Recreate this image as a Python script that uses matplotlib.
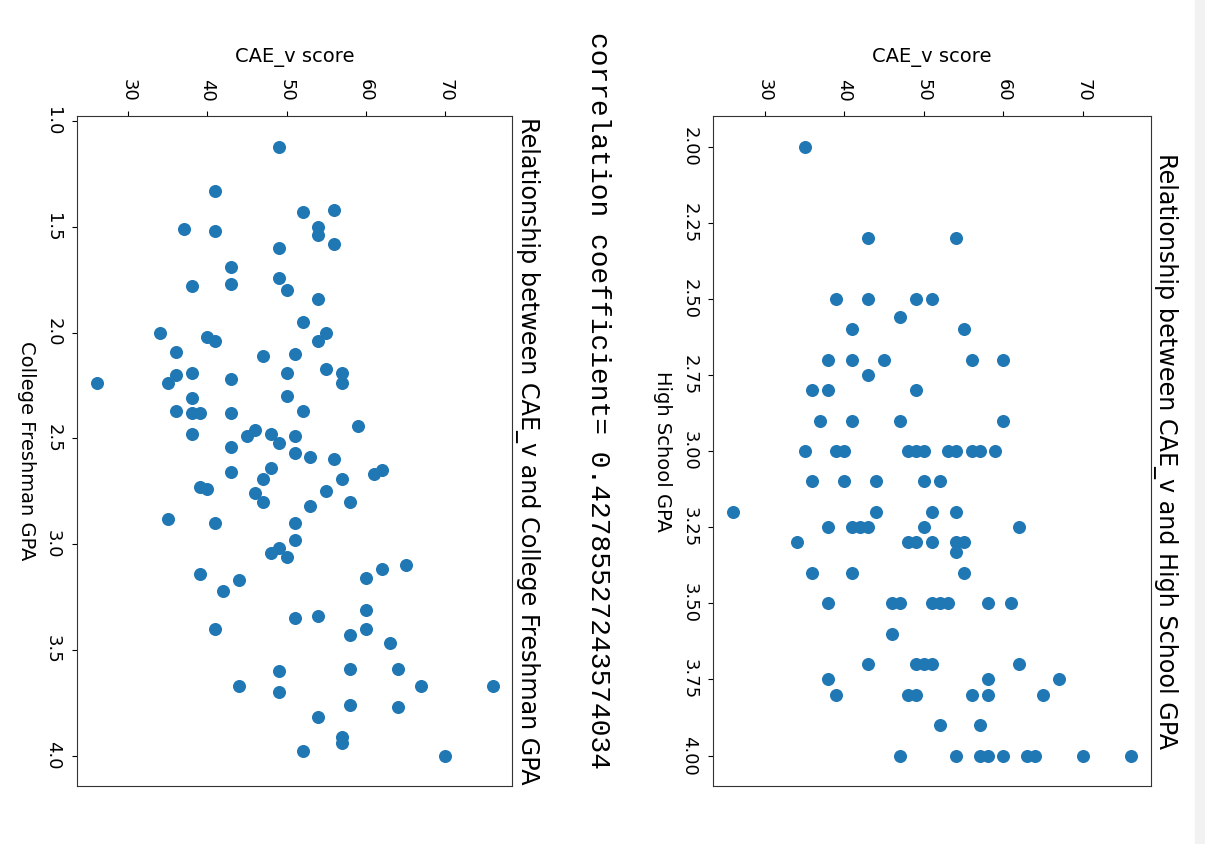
import matplotlib
matplotlib.use("Agg")
import matplotlib.pyplot as plt
from matplotlib.patches import Rectangle

# High School GPA vs CAE_v (right panel)
hs_gpa = [2.00, 2.30, 2.30,
          2.50, 2.50, 2.50, 2.50, 2.56, 2.60, 2.60,
          2.70, 2.70, 2.70, 2.70, 2.70, 2.75,
          2.80, 2.80, 2.80, 2.90, 2.90, 2.90, 2.90,
          3.00, 3.00, 3.00, 3.00, 3.00, 3.00, 3.00, 3.00, 3.00, 3.00, 3.00,
          3.10, 3.10, 3.10, 3.10, 3.10,
          3.20, 3.20, 3.20, 3.20,
          3.25, 3.25, 3.25, 3.25, 3.25, 3.25,
          3.30, 3.30, 3.30, 3.30, 3.30, 3.30, 3.33,
          3.40, 3.40, 3.40,
          3.50, 3.50, 3.50, 3.50, 3.50, 3.50, 3.50, 3.50, 3.60,
          3.70, 3.70, 3.70, 3.70, 3.70,
          3.75, 3.75, 3.75,
          3.80, 3.80, 3.80, 3.80, 3.80, 3.80,
          3.90, 3.90,
          4.00, 4.00, 4.00, 4.00, 4.00, 4.00, 4.00, 4.00, 4.00]
hs_cae = [35, 43, 54,
          39, 43, 49, 51, 47, 41, 55,
          38, 41, 45, 56, 60, 43,
          36, 38, 49, 37, 41, 47, 60,
          35, 39, 40, 48, 49, 50, 53, 54, 56, 57, 59,
          36, 40, 44, 50, 52,
          26, 44, 51, 54,
          38, 41, 42, 43, 50, 62,
          34, 48, 49, 51, 54, 55, 54,
          36, 41, 55,
          38, 46, 47, 51, 52, 53, 58, 61, 46,
          43, 49, 50, 51, 62,
          38, 58, 67,
          39, 48, 49, 56, 58, 65,
          52, 57,
          47, 54, 57, 58, 60, 63, 64, 70, 76]

# College Freshman GPA vs CAE_v (left panel)
col_gpa = [1.12, 1.33, 1.43, 1.42, 1.51, 1.52, 1.50, 1.54, 1.58, 1.60,
           1.69, 1.74, 1.77, 1.78, 1.80, 1.84, 1.95, 2.00, 2.00, 2.04,
           2.02, 2.04, 2.09, 2.10, 2.11, 2.24, 2.24, 2.20, 2.19, 2.22,
           2.19, 2.17, 2.19, 2.24, 2.30, 2.31, 2.37, 2.37, 2.38, 2.38,
           2.38, 2.44, 2.48, 2.49, 2.46, 2.48, 2.52, 2.49, 2.54, 2.57,
           2.59, 2.60, 2.64, 2.66, 2.67, 2.65, 2.69, 2.69, 2.73, 2.74,
           2.75, 2.76, 2.80, 2.80, 2.82, 2.88, 2.90, 2.90, 2.98, 3.04,
           3.02, 3.06, 3.14, 3.22, 3.17, 3.16, 3.12, 3.10, 3.40, 3.35,
           3.34, 3.31, 3.40, 3.43, 3.47, 3.60, 3.59, 3.59, 3.67, 3.70,
           3.67, 3.67, 3.76, 3.77, 3.82, 3.91, 3.94, 3.98, 4.00]
col_cae = [49, 41, 52, 56, 37, 41, 54, 54, 56, 49,
           43, 49, 43, 38, 50, 54, 52, 34, 55, 54,
           40, 41, 36, 51, 47, 26, 35, 36, 38, 43,
           50, 55, 57, 57, 50, 38, 52, 36, 38, 39,
           43, 59, 38, 45, 46, 48, 49, 51, 43, 51,
           53, 56, 48, 43, 61, 62, 47, 57, 39, 40,
           55, 46, 47, 58, 53, 35, 41, 51, 51, 48,
           49, 50, 39, 42, 44, 60, 62, 65, 41, 51,
           54, 60, 60, 58, 63, 49, 58, 64, 44, 49,
           67, 76, 58, 64, 54, 57, 57, 52, 70]

corr_text = "correlation coefficient= 0.42785527243574034"

fig = plt.figure(figsize=(12.05, 8.44), dpi=100)

def rotated_panel(rect, gpa, cae, gpa_label, title):
    ax = fig.add_axes(rect)
    ax.scatter(cae, gpa, s=70, color="#1f77b4")
    ax.invert_yaxis()
    ax.xaxis.tick_top()
    ax.xaxis.set_label_position("top")
    ax.set_xlabel("CAE_v score", fontsize=14, labelpad=12)
    ax.set_ylabel(gpa_label, fontsize=14, rotation=-90, va="top", labelpad=6)
    ax.tick_params(axis="x", labelsize=13, labelrotation=-90, pad=7)
    ax.tick_params(axis="y", labelsize=13, labelrotation=-90, pad=7)
    for lab in ax.get_yticklabels():
        lab.set_va("center")
    for sp in ax.spines.values():
        sp.set_color("#333333")
    ax.text(1.005, 0.5, title, transform=ax.transAxes, rotation=-90,
            ha="left", va="center", fontsize=17.2)
    return ax

ax_left = rotated_panel([0.0637, 0.0687, 0.3616, 0.7938], col_gpa, col_cae,
                        "College Freshman GPA",
                        "Relationship between CAE_v and College Freshman GPA")
ax_right = rotated_panel([0.5917, 0.0687, 0.3632, 0.7938], hs_gpa, hs_cae,
                         "High School GPA",
                         "Relationship between CAE_v and High School GPA")

fig.text(598 / 1205, 1 - 400 / 844, corr_text, rotation=-90,
         ha="center", va="center", fontsize=20.1, family="Liberation Mono")

# light strip at the right edge of the screenshot
fig.patches.append(Rectangle((1195 / 1205, 0), 10 / 1205, 1,
                             transform=fig.transFigure, color="#f2f2f2", zorder=-1))

fig.savefig("out.png", dpi=100)
